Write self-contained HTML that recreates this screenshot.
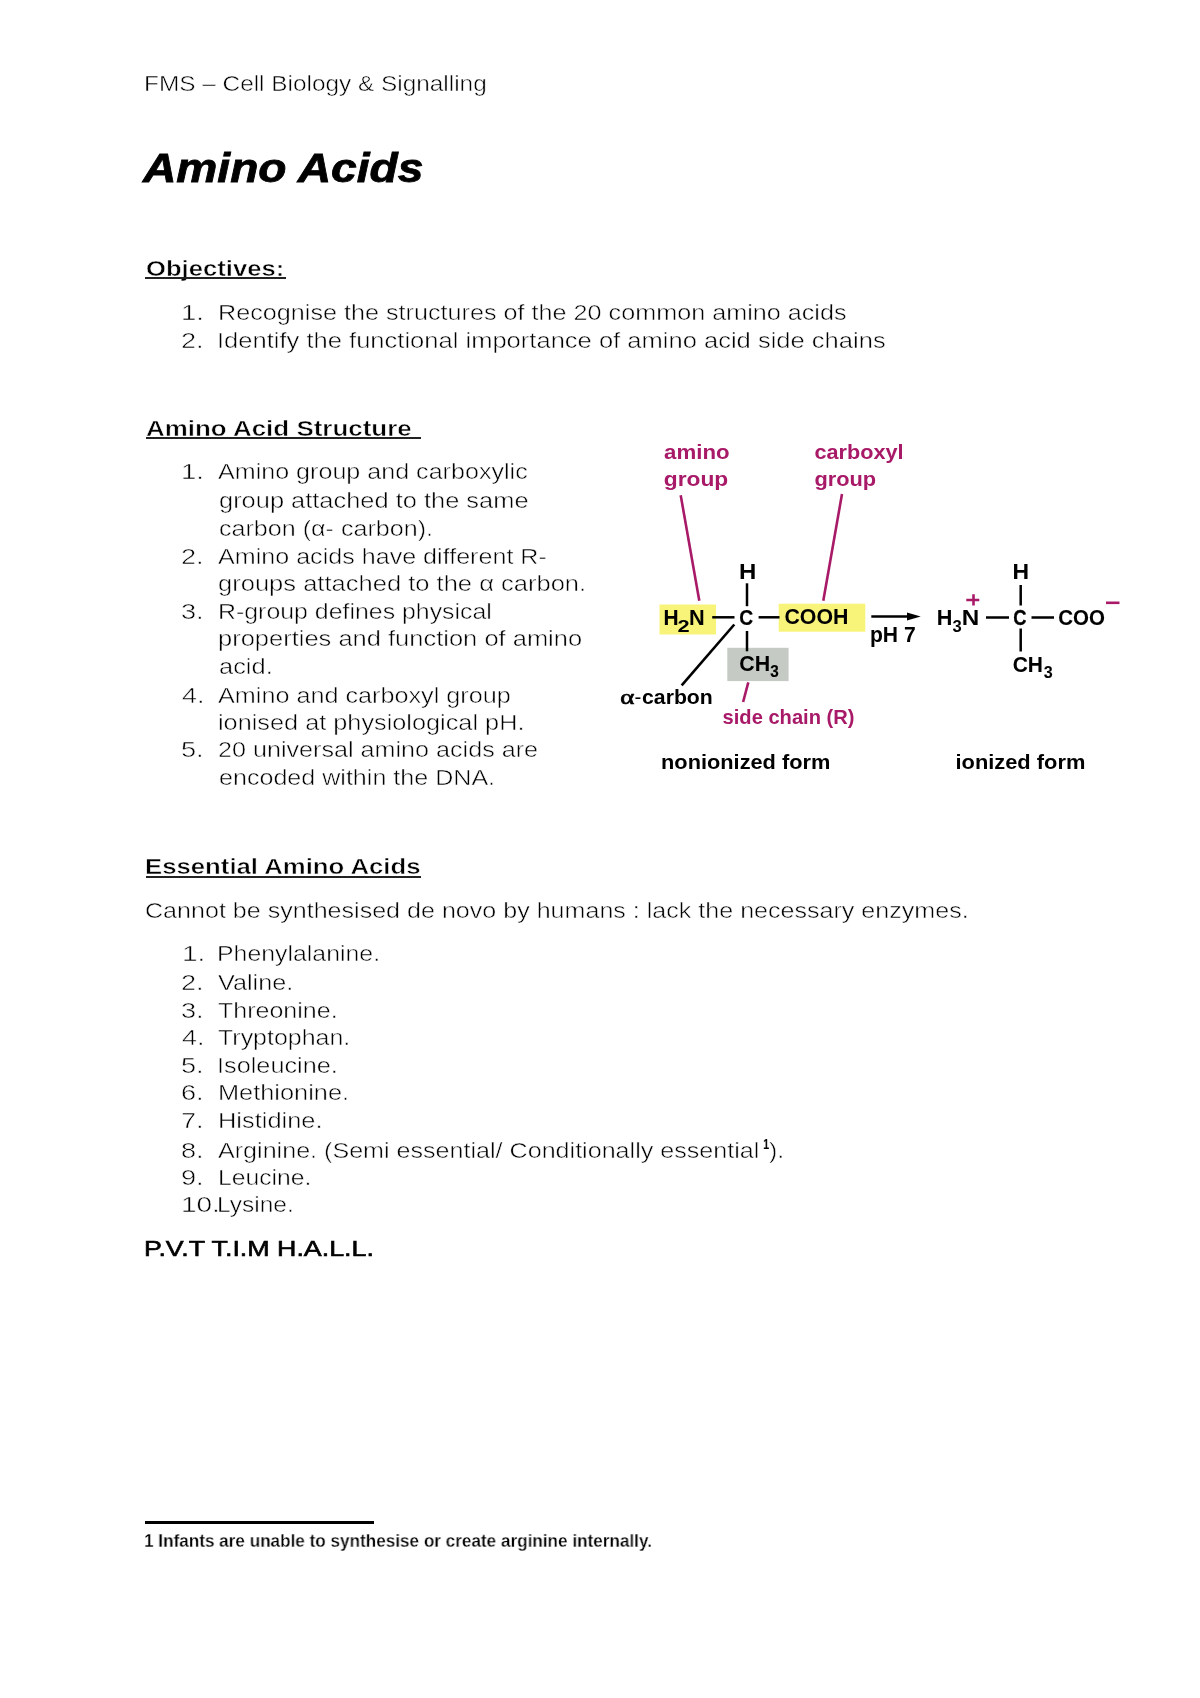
<!DOCTYPE html>
<html><head><meta charset="utf-8"><title>Amino Acids</title>
<style>
html,body{margin:0;padding:0;background:#fff;}
body{width:1200px;height:1698px;position:relative;overflow:hidden;font-family:"Liberation Sans",sans-serif;color:#000;}
.l{position:absolute;white-space:nowrap;line-height:normal;transform-origin:0 0;will-change:transform;}
.r{font-weight:400;font-style:normal;font-size:22.6px;-webkit-text-stroke:0.5px #fff}
.b{font-weight:700;font-style:normal;font-size:22.6px;-webkit-text-stroke:0.5px #fff}
.ti{font-weight:700;font-style:italic;font-size:40.5px;-webkit-text-stroke:0.8px #000}
.pb{font-weight:400;font-style:normal;font-size:21.8px;-webkit-text-stroke:0.6px #000}
.fb{font-weight:700;font-style:normal;font-size:17.5px;-webkit-text-stroke:0.3px #fff}
.sp{font-weight:700;font-style:normal;font-size:14px}
.u{position:absolute;height:1.6px;background:#222;}
.sup{position:absolute;font-size:12px;font-weight:400;line-height:normal;}
#diag{position:absolute;left:0;top:0;}
</style></head><body>
<div class="l r" id="hdr" style="left:143.84px;top:71.21px;transform:scaleX(1.0786)">FMS – Cell Biology &amp; Signalling</div>
<div class="l ti" id="ttl" style="left:142.82px;top:144.50px;transform:scaleX(1.1393)">Amino Acids</div>
<div class="l b" id="obj" style="left:146.02px;top:255.60px;transform:scaleX(1.1351)">Objectives:</div>
<div class="l r" id="o1n" style="left:181.45px;top:299.61px;transform:scaleX(1.2170)">1.</div>
<div class="l r" id="o1" style="left:217.83px;top:299.61px;transform:scaleX(1.1147)">Recognise the structures of the 20 common amino acids</div>
<div class="l r" id="o2n" style="left:180.74px;top:328.41px;transform:scaleX(1.2021)">2.</div>
<div class="l r" id="o2" style="left:216.66px;top:328.41px;transform:scaleX(1.1304)">Identify the functional importance of amino acid side chains</div>
<div class="l b" id="aas" style="left:145.95px;top:415.61px;transform:scaleX(1.1483)">Amino Acid Structure</div>
<div class="l r" id="s1n" style="left:181.45px;top:459.31px;transform:scaleX(1.2170)">1.</div>
<div class="l r" id="s1a" style="left:217.94px;top:459.31px;transform:scaleX(1.1108)">Amino group and carboxylic</div>
<div class="l r" id="s1b" style="left:218.94px;top:487.81px;transform:scaleX(1.1253)">group attached to the same</div>
<div class="l r" id="s1c" style="left:218.94px;top:515.81px;transform:scaleX(1.1110)">carbon (α- carbon).</div>
<div class="l r" id="s2n" style="left:180.74px;top:543.50px;transform:scaleX(1.2021)">2.</div>
<div class="l r" id="s2a" style="left:217.95px;top:543.50px;transform:scaleX(1.1111)">Amino acids have different R-</div>
<div class="l r" id="s2b" style="left:217.94px;top:570.71px;transform:scaleX(1.1299)">groups attached to the α carbon.</div>
<div class="l r" id="s3n" style="left:180.74px;top:598.50px;transform:scaleX(1.2021)">3.</div>
<div class="l r" id="s3a" style="left:217.86px;top:598.50px;transform:scaleX(1.1015)">R-group defines physical</div>
<div class="l r" id="s3b" style="left:217.81px;top:625.81px;transform:scaleX(1.1281)">properties and function of amino</div>
<div class="l r" id="s3c" style="left:218.95px;top:654.31px;transform:scaleX(1.1258)">acid.</div>
<div class="l r" id="s4n" style="left:181.94px;top:682.71px;transform:scaleX(1.1858)">4.</div>
<div class="l r" id="s4a" style="left:217.94px;top:682.71px;transform:scaleX(1.1154)">Amino and carboxyl group</div>
<div class="l r" id="s4b" style="left:217.82px;top:709.71px;transform:scaleX(1.1192)">ionised at physiological pH.</div>
<div class="l r" id="s5n" style="left:180.74px;top:737.31px;transform:scaleX(1.2021)">5.</div>
<div class="l r" id="s5a" style="left:217.82px;top:737.31px;transform:scaleX(1.1128)">20 universal amino acids are</div>
<div class="l r" id="s5b" style="left:218.95px;top:764.61px;transform:scaleX(1.1102)">encoded within the DNA.</div>
<div class="l b" id="ess" style="left:144.81px;top:854.40px;transform:scaleX(1.1391)">Essential Amino Acids</div>
<div class="l r" id="cnb" style="left:144.83px;top:897.71px;transform:scaleX(1.1097)">Cannot be synthesised de novo by humans : lack the necessary enzymes.</div>
<div class="l r" id="e1n" style="left:181.53px;top:941.00px;transform:scaleX(1.2385)">1.</div>
<div class="l r" id="e1" style="left:216.79px;top:941.00px;transform:scaleX(1.0999)">Phenylalanine.</div>
<div class="l r" id="e2n" style="left:180.74px;top:969.61px;transform:scaleX(1.2021)">2.</div>
<div class="l r" id="e2" style="left:217.96px;top:969.61px;transform:scaleX(1.1176)">Valine.</div>
<div class="l r" id="e3n" style="left:180.74px;top:997.61px;transform:scaleX(1.2021)">3.</div>
<div class="l r" id="e3" style="left:217.95px;top:997.61px;transform:scaleX(1.1071)">Threonine.</div>
<div class="l r" id="e4n" style="left:181.94px;top:1025.31px;transform:scaleX(1.1858)">4.</div>
<div class="l r" id="e4" style="left:217.93px;top:1025.31px;transform:scaleX(1.1050)">Tryptophan.</div>
<div class="l r" id="e5n" style="left:180.74px;top:1052.81px;transform:scaleX(1.2021)">5.</div>
<div class="l r" id="e5" style="left:216.69px;top:1052.81px;transform:scaleX(1.1191)">Isoleucine.</div>
<div class="l r" id="e6n" style="left:180.74px;top:1080.21px;transform:scaleX(1.2021)">6.</div>
<div class="l r" id="e6" style="left:217.80px;top:1080.21px;transform:scaleX(1.1217)">Methionine.</div>
<div class="l r" id="e7n" style="left:180.74px;top:1107.81px;transform:scaleX(1.2021)">7.</div>
<div class="l r" id="e7" style="left:217.81px;top:1107.81px;transform:scaleX(1.1254)">Histidine.</div>
<div class="l r" id="e8n" style="left:180.74px;top:1137.61px;transform:scaleX(1.2021)">8.</div>
<div class="l r" id="e8" style="left:217.93px;top:1137.61px;transform:scaleX(1.1109)">Arginine. (Semi essential/ Conditionally essential</div>
<div class="l r" id="e8s" style="left:769.40px;top:1137.61px;transform:scaleX(1.1000)">).</div>
<div class="l sp" id="sup" style="left:763.24px;top:1135.75px;transform:scaleX(0.8081)">1</div>
<div class="l r" id="e9n" style="left:180.74px;top:1165.00px;transform:scaleX(1.2021)">9.</div>
<div class="l r" id="e9" style="left:217.86px;top:1165.00px;transform:scaleX(1.0944)">Leucine.</div>
<div class="l r" id="e10n" style="left:180.81px;top:1192.41px;transform:scaleX(1.2363)">10.</div>
<div class="l r" id="e10" style="left:216.71px;top:1192.41px;transform:scaleX(1.0855)">Lysine.</div>
<div class="l pb" id="pvt" style="left:144.45px;top:1236.00px;transform:scaleX(1.2293)">P.V.T T.I.M H.A.L.L.</div>
<div class="l fb" id="fn" style="left:144.02px;top:1530.81px;transform:scaleX(0.9787)">1 Infants are unable to synthesise or create arginine internally.</div>
<div class="u" style="left:145px;top:277px;width:141px"></div>
<div class="u" style="left:146px;top:437px;width:275px"></div>
<div class="u" style="left:146px;top:876px;width:275px"></div>
<div class="u" style="left:145px;top:1521px;width:228.5px;height:2.6px;background:#000"></div>
<svg id="diag" width="1200" height="1698" viewBox="0 0 1200 1698" style="font-family:'Liberation Sans',sans-serif;font-kerning:none">
<text x="664.05" y="458.80" font-size="20.5" font-weight="700" fill="#a81a68" textLength="65.52" lengthAdjust="spacingAndGlyphs">amino</text>
<text x="663.77" y="486.00" font-size="20.5" font-weight="700" fill="#a81a68" textLength="64.47" lengthAdjust="spacingAndGlyphs">group</text>
<text x="814.45" y="458.80" font-size="20.5" font-weight="700" fill="#a81a68" textLength="89.08" lengthAdjust="spacingAndGlyphs">carboxyl</text>
<text x="814.41" y="486.00" font-size="20.5" font-weight="700" fill="#a81a68" textLength="61.79" lengthAdjust="spacingAndGlyphs">group</text>
<line x1="680.7" y1="495.3" x2="699.3" y2="600.7" stroke="#a81a68" stroke-width="2.6"/>
<line x1="842" y1="494" x2="823.3" y2="600.7" stroke="#a81a68" stroke-width="2.6"/>
<rect x="659.5" y="604.5" width="56.5" height="30" fill="#f8f47a"/>
<rect x="778.7" y="603.7" width="86.6" height="28" fill="#f8f47a"/>
<rect x="727.3" y="647.8" width="61.3" height="33.3" fill="#c5cbc4"/>
<text x="738.90" y="579.00" font-size="21.5" font-weight="700" fill="#000" textLength="17.32" lengthAdjust="spacingAndGlyphs">H</text>
<line x1="747" y1="583.3" x2="747" y2="606.2" stroke="#000" stroke-width="2.5"/>
<text x="663.50" y="624.60" font-size="21.5" font-weight="700" fill="#000" stroke="#000" stroke-width="0.06" textLength="15.11" lengthAdjust="spacingAndGlyphs">H</text>
<text x="677.54" y="631.50" font-size="16.5" font-weight="700" fill="#000" textLength="12.13" lengthAdjust="spacingAndGlyphs">2</text>
<text x="689.14" y="624.60" font-size="21.5" font-weight="700" fill="#000" textLength="15.72" lengthAdjust="spacingAndGlyphs">N</text>
<line x1="712.2" y1="617.3" x2="734.5" y2="617.3" stroke="#000" stroke-width="2.5"/>
<text x="739.21" y="624.80" font-size="21.5" font-weight="700" fill="#000" stroke="#000" stroke-width="0.23" textLength="13.92" lengthAdjust="spacingAndGlyphs">C</text>
<line x1="758.6" y1="617.3" x2="779.5" y2="617.3" stroke="#000" stroke-width="2.5"/>
<text x="784.42" y="624.40" font-size="21.5" font-weight="700" fill="#000" textLength="64.01" lengthAdjust="spacingAndGlyphs">COOH</text>
<line x1="747" y1="631" x2="747" y2="651.3" stroke="#000" stroke-width="2.5"/>
<text x="739.32" y="671.20" font-size="21.5" font-weight="700" fill="#000" textLength="30.92" lengthAdjust="spacingAndGlyphs">CH</text>
<text x="770.15" y="677.00" font-size="16.5" font-weight="700" fill="#000" stroke="#000" stroke-width="0.16" textLength="8.50" lengthAdjust="spacingAndGlyphs">3</text>
<line x1="734.3" y1="624.5" x2="681.7" y2="685.4" stroke="#000" stroke-width="2.6"/>
<text stroke="#000" stroke-width="0.7" x="620.22" y="704.20" font-family="Liberation Serif" font-size="21" font-weight="400" fill="#000" textLength="14.13" lengthAdjust="spacingAndGlyphs">α</text>
<text x="634.49" y="704.20" font-size="20.5" font-weight="400" fill="#000" textLength="6.82" lengthAdjust="spacingAndGlyphs">-</text>
<text x="642.07" y="704.20" font-size="20.5" font-weight="700" fill="#000" textLength="70.74" lengthAdjust="spacingAndGlyphs">carbon</text>
<line x1="748.3" y1="682.3" x2="743.1" y2="702" stroke="#a81a68" stroke-width="2.6"/>
<text x="722.59" y="724.20" font-size="20.5" font-weight="700" fill="#a81a68" textLength="131.91" lengthAdjust="spacingAndGlyphs">side chain (R)</text>
<line x1="871.3" y1="616.5" x2="910" y2="616.5" stroke="#000" stroke-width="2.5"/>
<path d="M907 612.6 L920.7 616.5 L907 620.4 Z" fill="#000"/>
<text x="869.91" y="642.40" font-size="21.5" font-weight="700" fill="#000" textLength="45.72" lengthAdjust="spacingAndGlyphs">pH 7</text>
<text x="661.07" y="769.00" font-size="20.8" font-weight="700" fill="#000" textLength="169.28" lengthAdjust="spacingAndGlyphs">nonionized form</text>
<text x="1012.46" y="579.00" font-size="21.5" font-weight="700" fill="#000" textLength="16.58" lengthAdjust="spacingAndGlyphs">H</text>
<line x1="1020.7" y1="585" x2="1020.7" y2="605.5" stroke="#000" stroke-width="2.5"/>
<path d="M966.3 600 H979.3 M973.5 594.3 V605.5" stroke="#a81a68" stroke-width="2.6"/>
<text x="936.80" y="624.50" font-size="21.5" font-weight="700" fill="#000" textLength="15.66" lengthAdjust="spacingAndGlyphs">H</text>
<text x="952.62" y="631.50" font-size="16.5" font-weight="700" fill="#000" textLength="9.23" lengthAdjust="spacingAndGlyphs">3</text>
<text x="961.88" y="624.50" font-size="21.5" font-weight="700" fill="#000" textLength="17.50" lengthAdjust="spacingAndGlyphs">N</text>
<line x1="986" y1="617.5" x2="1009" y2="617.5" stroke="#000" stroke-width="2.5"/>
<text x="1013.25" y="624.50" font-size="21.5" font-weight="700" fill="#000" stroke="#000" stroke-width="0.32" textLength="13.25" lengthAdjust="spacingAndGlyphs">C</text>
<line x1="1031.5" y1="617.5" x2="1054" y2="617.5" stroke="#000" stroke-width="2.5"/>
<text x="1058.16" y="624.50" font-size="21.5" font-weight="700" fill="#000" stroke="#000" stroke-width="0.10" textLength="46.70" lengthAdjust="spacingAndGlyphs">COO</text>
<path d="M1106 602.8 H1119.5" stroke="#a81a68" stroke-width="2.6"/>
<line x1="1020.7" y1="628.5" x2="1020.7" y2="651.5" stroke="#000" stroke-width="2.5"/>
<text x="1012.64" y="672.00" font-size="21.5" font-weight="700" fill="#000" stroke="#000" stroke-width="0.06" textLength="30.27" lengthAdjust="spacingAndGlyphs">CH</text>
<text x="1043.63" y="677.50" font-size="16.5" font-weight="700" fill="#000" stroke="#000" stroke-width="0.05" textLength="8.95" lengthAdjust="spacingAndGlyphs">3</text>
<text x="955.47" y="769.20" font-size="21" font-weight="700" fill="#000" textLength="129.88" lengthAdjust="spacingAndGlyphs">ionized form</text>
</svg>
</body></html>
